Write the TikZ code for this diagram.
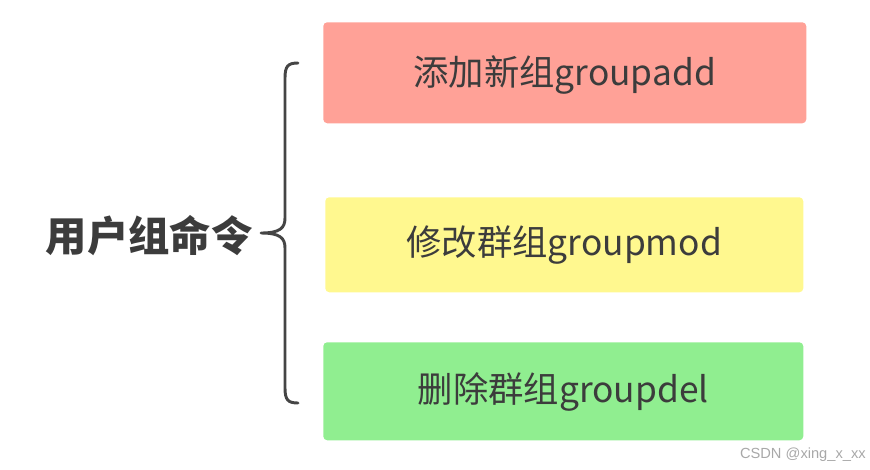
\documentclass[tikz,border=0pt]{standalone}
\usepackage{fontspec}
\newfontfamily\cjk{Noto Sans CJK SC}
\setsansfont{Liberation Sans}
\definecolor{boxred}{HTML}{FFA197}
\definecolor{boxyellow}{HTML}{FFF88F}
\definecolor{boxgreen}{HTML}{90EE90}
\definecolor{txt}{HTML}{3C3C3C}
\definecolor{bracec}{HTML}{454545}
\definecolor{wm}{HTML}{A8A8A8}
\begin{document}
\begin{tikzpicture}[x=0.75pt,y=-0.75pt,
  cmd/.style={rounded corners=3pt,inner sep=0pt,anchor=north west},
  cmdtext/.style={text=txt,font=\cjk\fontsize{26.5}{30}\selectfont},
  title/.style={font=\cjk\bfseries\fontsize{31}{36}\selectfont,text=txt},
  bracel/.style={draw=bracec,line width=2.2pt,line cap=round,line join=round}]
\useasboundingbox (0,0) rectangle (870,469);
\node[title] (t) at (149,236) {用户组命令};
\node[cmd,fill=boxred,minimum width=483*0.75pt,minimum height=101*0.75pt] (a) at (323,22) {};
\node[cmdtext] (at) at ([yshift=-1.5pt]a.center) {添加新组groupadd};
\node[cmd,fill=boxyellow,minimum width=478*0.75pt,minimum height=95*0.75pt] (b) at (325,197) {};
\node[cmdtext] (bt2) at ([yshift=-0.5pt]b.center) {修改群组groupmod};
\node[cmd,fill=boxgreen,minimum width=480*0.75pt,minimum height=98*0.75pt] (c) at (323,342) {};
\node[cmdtext] (ct) at ([yshift=-0.5pt]c.center) {删除群组groupdel};
\coordinate (bt) at (298,63);
\coordinate (bm) at (261,233);
\coordinate (bb) at (298,403);
\draw[bracel] (bt) .. controls (288,63) and (285,66) .. (285,78)
  -- (285,218) .. controls (285,228) and (280,233) .. (bm)
  .. controls (280,233) and (285,238) .. (285,248)
  -- (285,388) .. controls (285,400) and (288,403) .. (bb);
\node[font=\sffamily\fontsize{11}{13}\selectfont,text=wm,anchor=east,inner sep=0pt] (w) at (866,455) {CSDN @xing\_x\_xx};
\end{tikzpicture}
\end{document}
